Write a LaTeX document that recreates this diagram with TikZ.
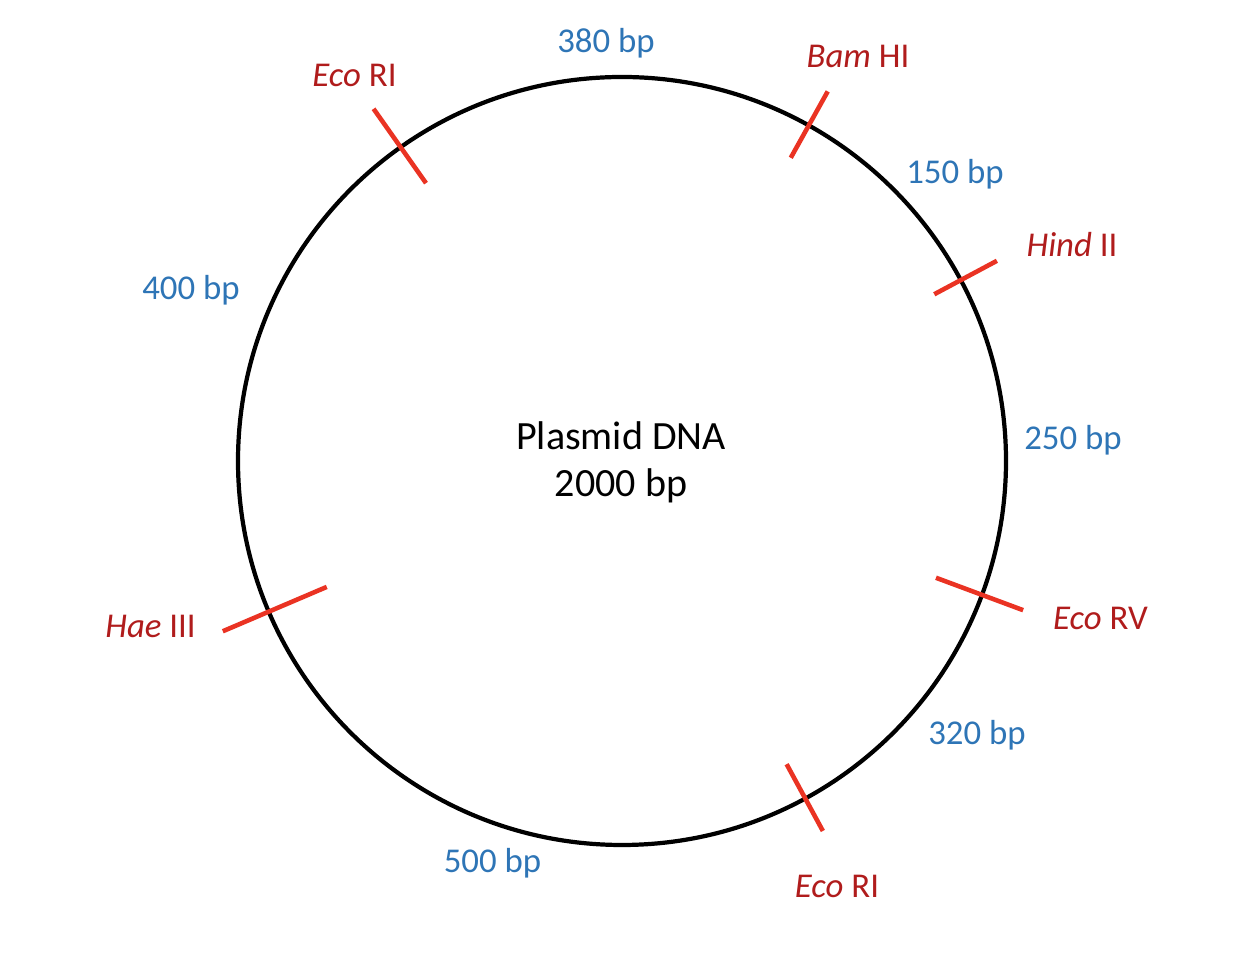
\documentclass[tikz,border=0pt]{standalone}
\usepackage{fontspec}
\setmainfont{Carlito}
\usepackage{tikz}
\definecolor{lenblue}{RGB}{46,117,182}
\definecolor{enzred}{RGB}{176,28,28}
\definecolor{cutred}{RGB}{234,51,35}

\begin{document}
\begin{tikzpicture}
		\tikzstyle{length}=[text=lenblue, anchor=base, inner sep=0pt, font=\fontsize{9.9}{12}\selectfont];
		\tikzstyle{enzyme}=[text=enzred, anchor=base, inner sep=0pt, font=\fontsize{9.9}{12}\selectfont];
		\tikzstyle{cut}=[draw=cutred, line width=1.3pt];
		\useasboundingbox (0,0) rectangle (12.44,9.76);

		\node[draw, circle, line width=1.2pt, minimum size=7.68cm, inner sep=0pt] (plasmid) at (6.22, 5.15) {};
		\node[anchor=base, align=center, inner sep=0pt, font=\fontsize{11.4}{13.3}\selectfont] (title) at (6.21, 4.793) {Plasmid DNA\\2000 bp};

		% cut sites
		\begin{scope}[shift={(plasmid.center)}]
			\draw[cut] (125.2:3.40) -- (125.2:4.31);
			\draw[cut] (60.9:3.47) -- (60.9:4.23);
			\draw[cut] (28.1:3.54) -- (28.1:4.25);
			\draw[cut] (-20.4:3.35) -- (-20.4:4.28);
			\draw[cut] (-61.5:3.45) -- (-61.5:4.21);
			\draw[cut] (203.1:3.21) -- (203.1:4.34);
		\end{scope}

		\node[enzyme] (ecoritop) at (3.545, 8.893) {\textit{Eco} RI};
		\node[enzyme] (bamhi) at (8.58, 9.08) {\textit{Bam} HI};
		\node[enzyme] (hindii) at (10.72, 7.193) {\textit{Hind} II};
		\node[enzyme] (ecorv) at (11.005, 3.467) {\textit{Eco} RV};
		\node[enzyme] (ecoribot) at (8.37, 0.783) {\textit{Eco} RI};
		\node[enzyme] (haeiii) at (1.505, 3.383) {\textit{Hae} III};

		\node[length] (len380) at (6.06, 9.237) {380 bp};
		\node[length] (len150) at (9.55, 7.92) {150 bp};
		\node[length] (len250) at (10.73, 5.26) {250 bp};
		\node[length] (len320) at (9.77, 2.317) {320 bp};
		\node[length] (len500) at (4.925, 1.037) {500 bp};
		\node[length] (len400) at (1.91, 6.76) {400 bp};
	\end{tikzpicture}
\end{document}
